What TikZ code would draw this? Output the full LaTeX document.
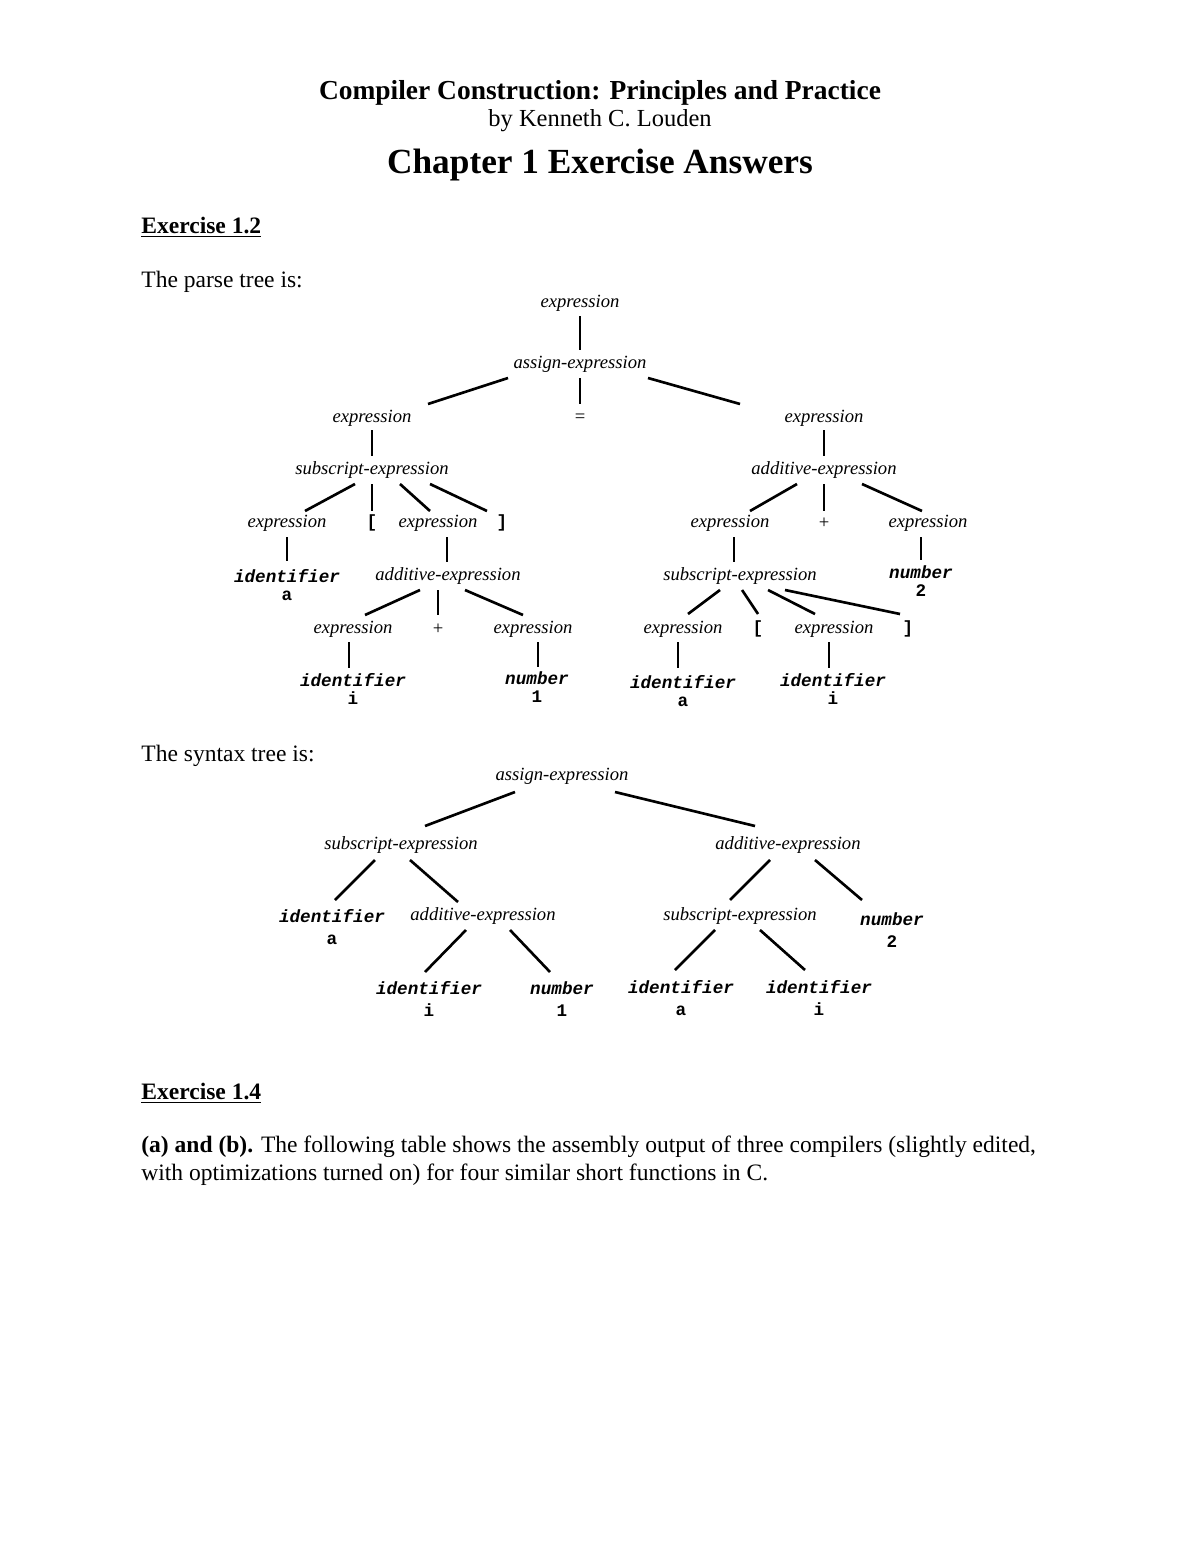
\documentclass[tikz,border=0pt]{standalone}
\usepackage{fontspec}
\setmainfont{Liberation Serif}
\setmonofont{Liberation Mono}
\usetikzlibrary{calc}

\tikzset{
  nt/.style={font=\fontsize{9.5}{11}\selectfont\itshape, inner sep=1pt},
  sym/.style={font=\fontsize{9.5}{11}\selectfont, inner sep=1pt},
  brk/.style={font=\fontsize{9}{10}\selectfont\ttfamily\bfseries, inner sep=1pt},
  leaf/.style={align=center, inner sep=1pt, font=\fontsize{9}{9.5}\selectfont\ttfamily\bfseries},
  sleaf/.style={leaf, font=\fontsize{9}{11}\selectfont\ttfamily\bfseries},
  edge/.style={line width=1.35pt},
  body/.style={font=\fontsize{12}{14.3}\selectfont, anchor=west, inner sep=0pt, align=left},
}

\begin{document}
\begin{tikzpicture}[x=0.51pt, y=-0.51pt]
    \fill[white] (0,0) rectangle (1200,1553);

    % page text
    \node[font=\fontsize{14}{16}\selectfont\bfseries] (title) at (600,93) {Compiler Construction: Principles and Practice};
    \node[font=\fontsize{12.5}{14}\selectfont] (author) at (600,121) {by Kenneth C. Louden};
    \node[font=\fontsize{18}{20}\selectfont\bfseries] (chapter) at (600,165) {Chapter 1 Exercise Answers};
    \node[body, font=\fontsize{12}{14}\selectfont\bfseries] (ex12) at (141,227) {\underline{Exercise 1.2}};
    \node[body] (parsecap) at (141,282) {The parse tree is:};
    \node[body] (syntaxcap) at (141,756) {The syntax tree is:};
    \node[body, font=\fontsize{12}{14}\selectfont\bfseries] (ex14) at (141,1093) {\underline{Exercise 1.4}};
    \node[body] (para) at (141,1161) {\textbf{(a) and (b).} The following table shows the assembly output of three compilers (slightly edited,\\
        with optimizations turned on) for four similar short functions in C.};

    % parse tree
    \node[nt] (p0) at (580,303) {expression};
    \node[nt] (p1) at (580,364) {assign-expression};
    \node[nt] (p2) at (372,418) {expression};
    \node[sym] (peq) at (580,418) {=};
    \node[nt] (p3) at (824,418) {expression};
    \node[nt] (p4) at (372,470) {subscript-expression};
    \node[nt] (p5) at (824,470) {additive-expression};
    \node[nt] (p6) at (287,523) {expression};
    \node[brk] (plb) at (372,523) {[};
    \node[nt] (p7) at (438,523) {expression};
    \node[brk] (prb) at (502,523) {]};
    \node[nt] (p8) at (730,523) {expression};
    \node[sym] (pplus1) at (824,523) {+};
    \node[nt] (p9) at (928,523) {expression};
    \node[leaf] (p10) at (287,585) {\textit{identifier}\\a};
    \node[nt] (p11) at (448,576) {additive-expression};
    \node[nt] (p12) at (740,576) {subscript-expression};
    \node[leaf] (p13) at (921,581) {\textit{number}\\2};
    \node[nt] (p14) at (353,629) {expression};
    \node[sym] (pplus2) at (438,629) {+};
    \node[nt] (p15) at (533,629) {expression};
    \node[nt] (p16) at (683,629) {expression};
    \node[brk] (plb2) at (758,629) {[};
    \node[nt] (p17) at (834,629) {expression};
    \node[brk] (prb2) at (908,629) {]};
    \node[leaf] (p18) at (353,689) {\textit{identifier}\\i};
    \node[leaf] (p19) at (537,687) {\textit{number}\\1};
    \node[leaf] (p20) at (683,691) {\textit{identifier}\\a};
    \node[leaf] (p21) at (833,689) {\textit{identifier}\\i};

    \foreach \a/\ax/\ay/\b/\bx/\by in {
        p0/0/13/p1/0/-14, p1/-72/14/p2/56/-14, p1/0/14/peq/0/-14, p1/68/14/p3/-84/-14,
        p2/0/12/p4/0/-14, p3/0/12/p5/0/-14,
        p4/-17/14/p6/18/-12, p4/0/14/plb/0/-12, p4/28/14/p7/-8/-12, p4/58/14/prb/-15/-12,
        p5/-27/14/p8/20/-12, p5/0/14/pplus1/0/-12, p5/38/14/p9/-6/-12,
        p6/0/14/p10/0/-24, p7/9/14/p11/-1/-14, p8/4/14/p12/-6/-14, p9/-7/14/p13/0/-21,
        p11/-28/14/p14/12/-14, p11/-10/14/pplus2/0/-14, p11/17/14/p15/-10/-14,
        p12/-20/14/p16/5/-15, p12/2/14/plb2/0/-15, p12/28/14/p17/-19/-15, p12/45/14/prb2/-8/-15,
        p14/-4/13/p18/-4/-21, p15/5/13/p19/1/-20, p16/-5/13/p20/-5/-23, p17/-5/13/p21/-4/-21}
        {\draw[edge] ($(\a)+(\ax,\ay)$) -- ($(\b)+(\bx,\by)$);}

    % syntax tree
    \node[nt] (s0) at (562,776) {assign-expression};
    \node[nt] (s1) at (401,845) {subscript-expression};
    \node[nt] (s2) at (788,845) {additive-expression};
    \node[sleaf] (s3) at (332,927) {\textit{identifier}\\a};
    \node[nt] (s4) at (483,916) {additive-expression};
    \node[nt] (s5) at (740,916) {subscript-expression};
    \node[sleaf] (s6) at (892,930) {\textit{number}\\2};
    \node[sleaf] (s7) at (429,999) {\textit{identifier}\\i};
    \node[sleaf] (s8) at (562,999) {\textit{number}\\1};
    \node[sleaf] (s9) at (681,998) {\textit{identifier}\\a};
    \node[sleaf] (s10) at (819,998) {\textit{identifier}\\i};

    \foreach \a/\ax/\ay/\b/\bx/\by in {
        s0/-47/16/s1/24/-19, s0/53/16/s2/-33/-19,
        s1/-26/15/s3/3/-27, s1/9/15/s4/-25/-14,
        s2/-18/15/s5/-10/-16, s2/27/15/s6/-30/-30,
        s4/-17/14/s7/-4/-27, s4/27/14/s8/-12/-27,
        s5/-25/14/s9/-6/-28, s5/20/14/s10/-14/-28}
        {\draw[edge] ($(\a)+(\ax,\ay)$) -- ($(\b)+(\bx,\by)$);}
\end{tikzpicture}
\end{document}
